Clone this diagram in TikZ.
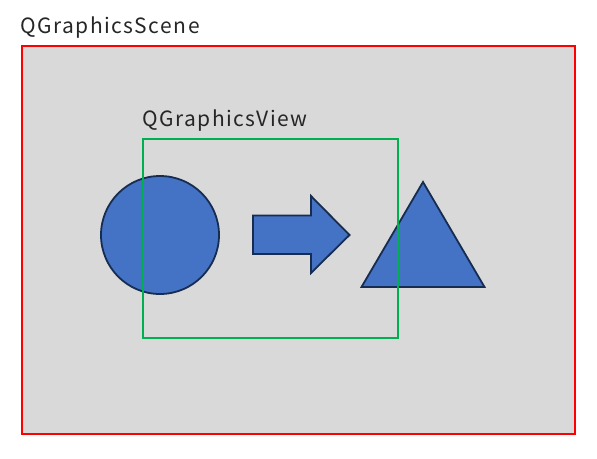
\documentclass[tikz,border=0pt]{standalone}
\usepackage{fontspec}
\setmainfont[LetterSpace=7]{Noto Sans CJK JP}
\definecolor{scenegray}{HTML}{D9D9D9}
\definecolor{shapeblue}{HTML}{4472C4}
\definecolor{shapeedge}{HTML}{172C51}
\definecolor{scenered}{HTML}{FF0000}
\definecolor{viewgreen}{HTML}{00B050}
\tikzset{
  shapeitem/.style={fill=shapeblue, draw=shapeedge, line width=1.8pt, line join=miter},
  label text/.style={anchor=base west, inner sep=0pt, font=\fontsize{21}{24}\selectfont, text=black!85}
}
\begin{document}
\begin{tikzpicture}[x=1pt,y=-1pt]
\useasboundingbox (0,0) rectangle (597,458);
\fill[white] (0,0) rectangle (597,458);
% scene
\draw[fill=scenegray, draw=scenered, line width=2pt] (22,46) rectangle (575,434);
\node[label text] (scenelabel) at (20,33) {QGraphicsScene};
% circle
\draw[shapeitem] (160,235) circle (59);
% arrow
\draw[shapeitem] (253,215.5) -- (311,215.5) -- (311,196) -- (349.5,235) -- (311,273) -- (311,254) -- (253,254) -- cycle;
% triangle
\draw[shapeitem] (423,182) -- (484.5,287) -- (361.5,287) -- cycle;
% view
\draw[draw=viewgreen, line width=2pt] (143,139) rectangle (398,338);
\node[label text] (viewlabel) at (142,126) {QGraphicsView};
\end{tikzpicture}
\end{document}
